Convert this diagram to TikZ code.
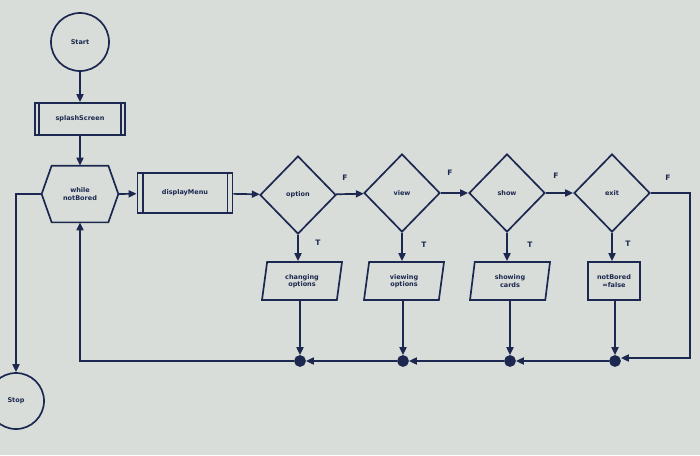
\documentclass[tikz,border=0pt]{standalone}
\usepackage{fontspec}
\setmainfont{DejaVu Sans}
\usetikzlibrary{shapes.geometric,shapes.misc,arrows.meta}
\definecolor{ink}{HTML}{1C2850}
\definecolor{bg}{HTML}{D9DDD9}
\begin{document}
\begin{tikzpicture}[x=1pt,y=-1pt,
  line width=1.7pt, draw=ink, text=ink,
  font=\fontsize{6.5}{7.5}\selectfont\bfseries,
  every node/.style={draw=ink, text=ink, line width=1.7pt, align=center},
  arr/.style={draw=ink, -{Triangle[length=8pt,width=7pt]}},
  term/.style={circle, minimum size=58pt, inner sep=0pt},
  proc/.style={rectangle, minimum width=90pt, minimum height=32pt, inner sep=1pt},
  hexa/.style={chamfered rectangle, chamfered rectangle xsep=10pt, chamfered rectangle ysep=27.5pt, minimum width=75pt, minimum height=55pt, inner sep=1pt},
  dec/.style={diamond, minimum width=76pt, minimum height=78pt, inner sep=0pt},
  io/.style={trapezium, trapezium left angle=72, trapezium right angle=108, minimum width=80pt, minimum height=38pt, inner sep=1pt, trapezium stretches body},
  box/.style={rectangle, minimum width=52pt, minimum height=38pt, inner sep=1pt},
  dot/.style={circle, fill=ink, minimum size=10pt, inner sep=0pt},
  lab/.style={draw=none, font=\fontsize{7.5}{8}\selectfont\bfseries}]
\fill[bg] (0,0) rectangle (700,455);
\useasboundingbox (0,0) rectangle (700,455);
\node[term] (start) at (80,42) {Start};
\node[proc] (splash) at (80,119) {splashScreen};
\draw (splash.north west)++(5,0) -- ++(0,32);
\draw (splash.north east)++(-5,0) -- ++(0,32);
\node[draw=none, minimum width=75pt, minimum height=55pt, inner sep=1pt] (while) at (80,194) {while\\notBored};
\draw (while.west) -- ([xshift=10pt]while.north west) -- ([xshift=-10pt]while.north east) -- (while.east) -- ([xshift=-10pt]while.south east) -- ([xshift=10pt]while.south west) -- cycle;
\node[proc, minimum width=95pt, minimum height=40pt] (menu) at (185,193) {displayMenu};
\draw (menu.north west)++(6,0) -- ++(0,40);
\draw (menu.north east)++(-6,0) -- ++(0,40);
\node[dec] (opt) at (298,195) {option};
\node[dec] (view) at (402,193) {view};
\node[dec] (show) at (507,193) {show};
\node[dec] (exit) at (612,193) {exit};
\node[io] (chg) at (302,281) {changing\\options};
\node[io] (vw) at (404,281) {viewing\\options};
\node[io] (sc) at (510,281) {showing\\cards};
\node[box] (nb) at (614,281) {notBored\\=false};
\node[dot] (d1) at (300,361) {};
\node[dot] (d2) at (403,361) {};
\node[dot] (d3) at (510,361) {};
\node[dot] (d4) at (615,361) {};
\node[term, minimum size=56pt] (stop) at (16,401) {Stop};
\coordinate (r1) at (690,193);
\coordinate (r2) at (690,358);
\coordinate (l1) at (80,361);
\coordinate (s1) at (16,194);
\draw[arr] (start) -- (splash);
\draw[arr] (splash) -- (while);
\draw[arr] (while.east) -- (menu);
\draw[arr] (menu) -- (opt);
\draw[arr] (opt) -- (view);
\draw[arr] (view) -- (show);
\draw[arr] (show) -- (exit);
\draw[arr] (opt.south) -- (opt.south |- chg.north);
\draw[arr] (view.south) -- (view.south |- vw.north);
\draw[arr] (show.south) -- (show.south |- sc.north);
\draw[arr] (exit.south) -- (exit.south |- nb.north);
\draw[arr] (chg.south -| d1) -- (d1);
\draw[arr] (vw.south -| d2) -- (d2);
\draw[arr] (sc.south -| d3) -- (d3);
\draw[arr] (nb.south -| d4) -- (d4);
\draw[arr] (exit.east) -- (r1) -- (r2) -- (d4.east |- r2);
\draw[arr] (d4) -- (d3);
\draw[arr] (d3) -- (d2);
\draw[arr] (d2) -- (d1);
\draw[arr] (d1) -- (l1) -- (while.south);
\draw[arr] (while.west) -- (s1) -- (stop.north);
\node[lab] (f1) at (345,178) {F};
\node[lab] (f2) at (450,173) {F};
\node[lab] (f3) at (556,176) {F};
\node[lab] (f4) at (668,178) {F};
\node[lab] (t1) at (318,243) {T};
\node[lab] (t2) at (424,245) {T};
\node[lab] (t3) at (530,245) {T};
\node[lab] (t4) at (628,244) {T};
\end{tikzpicture}
\end{document}
